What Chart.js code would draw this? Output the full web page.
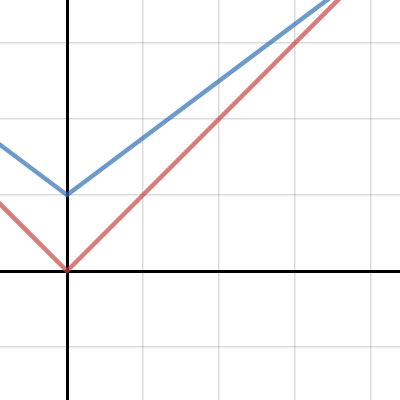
<!DOCTYPE html>
<html><head><meta charset="utf-8">
<script src="https://cdn.jsdelivr.net/npm/chart.js@4"></script>
<style>html,body{margin:0;padding:0;background:#fff;}canvas{display:block;}</style>
</head><body>
<canvas id="c" width="400" height="400"></canvas>
<script>
const xs = [-3, 0, 6];
const redY = [3, 0, 6];          // y = |x|
const blueY = [3.25, 1, 5.5];    // y = 0.75|x| + 1
const xRange = [-0.8816, 4.3816];
const yRange = [-1.697, 3.566];
const xGrid = [0, 1, 2, 3, 4];
const yGrid = [-1, 0, 1, 2, 3];

function pts(ys){ return xs.map((x,i)=>({x:x,y:ys[i]})); }
function gridOpts(){
  return {
    drawTicks:false,
    color: ctx => ctx.tick && ctx.tick.value === 0 ? '#000' : 'rgba(0,0,0,0.14)',
    lineWidth: ctx => ctx.tick && ctx.tick.value === 0 ? 3 : 1.5
  };
}

new Chart(document.getElementById('c'), {
  type:'scatter',
  data:{datasets:[
    {data:pts(redY), showLine:true, borderColor:'rgba(199,68,64,0.7)', borderWidth:4.5, pointRadius:0, tension:0, borderCapStyle:'round', borderJoinStyle:'round'},
    {data:pts(blueY), showLine:true, borderColor:'rgba(45,112,179,0.7)', borderWidth:4.5, pointRadius:0, tension:0, borderCapStyle:'round', borderJoinStyle:'round'}
  ]},
  options:{
    responsive:false, animation:false,
    layout:{padding:0},
    plugins:{legend:{display:false}, tooltip:{enabled:false}},
    scales:{
      x:{type:'linear', min:xRange[0], max:xRange[1], ticks:{display:false}, grid:gridOpts(), border:{display:false},
         afterBuildTicks: s => { s.ticks = xGrid.map(v => ({value:v})); }},
      y:{type:'linear', min:yRange[0], max:yRange[1], ticks:{display:false}, grid:gridOpts(), border:{display:false},
         afterBuildTicks: s => { s.ticks = yGrid.map(v => ({value:v})); }}
    }
  }
});
</script>
</body></html>
